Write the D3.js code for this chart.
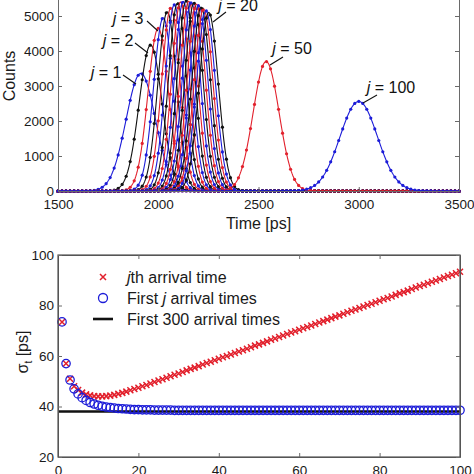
<!DOCTYPE html>
<html>
<head>
<meta charset="utf-8">
<script src="https://cdn.jsdelivr.net/npm/d3@7"></script>
<style>
  body { margin: 0; background: #fff; }
  svg { font-family: "Liberation Sans", Arial, sans-serif; }
</style>
</head>
<body>
<script>
var width = 474,
    height = 474;

// ---- top panel: distributions of the j-th arrival time (gaussian fits) ----
var curveJ     = [1, 2, 3, 4, 5, 6, 7, 8, 9, 10, 11, 12, 13, 14, 15, 16, 17, 18, 19, 20, 50, 100];
var curveMeans = [1913, 1962, 2000, 2025, 2045, 2063, 2080, 2096, 2111, 2125, 2139, 2152,
                  2165, 2178, 2190, 2202, 2214, 2226, 2238, 2252, 2538, 3000];
var curvePeaks = [3360, 4170, 4650, 4950, 5120, 5230, 5320, 5370, 5400, 5420, 5430, 5420,
                  5400, 5370, 5340, 5300, 5250, 5200, 5150, 5100, 3700, 2560];
var labelled   = [1, 2, 3, 20, 50, 100];
var countTicks = [0, 1000, 2000, 3000, 4000, 5000];
var timeTicks  = [1500, 2000, 2500, 3000, 3500];

// ---- bottom panel: timing spread vs j ----
var jthSigma = [73.5, 57.0, 51.0, 48.0, 46.5, 45.5, 44.8, 44.4, 44.1, 44.0,
                44.0, 44.1, 44.3, 44.6, 45.0, 45.4, 45.9, 46.4, 46.9, 47.4,
                48.0, 48.5, 49.1, 49.7, 50.3, 50.8, 51.4, 52.0, 52.6, 53.1,
                53.7, 54.3, 54.9, 55.4, 56.0, 56.6, 57.2, 57.7, 58.3, 58.9,
                59.5, 60.0, 60.6, 61.2, 61.8, 62.3, 62.9, 63.5, 64.1, 64.6,
                65.2, 65.8, 66.4, 66.9, 67.5, 68.1, 68.7, 69.3, 69.8, 70.4,
                71.0, 71.5, 72.1, 72.7, 73.3, 73.8, 74.4, 75.0, 75.6, 76.1,
                76.7, 77.3, 77.9, 78.4, 79.0, 79.6, 80.2, 80.7, 81.3, 81.9,
                82.5, 83.0, 83.6, 84.2, 84.8, 85.3, 85.9, 86.5, 87.1, 87.7,
                88.2, 88.8, 89.4, 89.9, 90.5, 91.1, 91.7, 92.2, 92.8, 93.4];
var firstJSigma = [73.5, 57.0, 50.5, 47.0, 45.0, 43.5, 42.4, 41.6, 41.0, 40.5,
                   40.1, 39.8, 39.6, 39.4, 39.2, 39.1, 39.0, 38.9, 38.8, 38.8,
                   38.7, 38.7, 38.7, 38.6, 38.6, 38.6, 38.6, 38.6, 38.5, 38.5,
                   38.5, 38.5, 38.5, 38.5, 38.5, 38.5, 38.5, 38.5, 38.5, 38.5,
                   38.5, 38.5, 38.5, 38.5, 38.5, 38.5, 38.5, 38.5, 38.5, 38.5,
                   38.5, 38.5, 38.5, 38.5, 38.5, 38.5, 38.5, 38.5, 38.5, 38.5,
                   38.5, 38.5, 38.5, 38.5, 38.5, 38.5, 38.5, 38.5, 38.5, 38.5,
                   38.5, 38.5, 38.5, 38.5, 38.5, 38.5, 38.5, 38.5, 38.5, 38.5,
                   38.5, 38.5, 38.5, 38.5, 38.5, 38.5, 38.5, 38.5, 38.5, 38.5,
                   38.5, 38.5, 38.5, 38.5, 38.5, 38.5, 38.5, 38.5, 38.5, 38.5];
var first300Sigma = 38.0;
var sigmaTicks = [20, 40, 60, 80, 100];
var jTicks = [0, 20, 40, 60, 80, 100];
var legendItems = ["th arrival time", "First ", "First 300 arrival times"];

var blue = "#1c1cd8", red = "#e2202c", black = "#111";
var cycle = [blue, black, red];
function curveColor(j) {
  if (j == 50) return red;
  if (j == 100) return blue;
  return cycle[(j - 1) % 3];
}

var svg = d3.select("body").append("svg")
    .attr("width", width)
    .attr("height", height);

function styleAxis(sel) {
  sel.select(".domain").attr("stroke", "#6a6a6a");
  sel.selectAll(".tick line").attr("stroke", "#6a6a6a");
  sel.selectAll(".tick text")
    .attr("fill", "#1a1a1a")
    .style("font-size", "13.5px")
    .style("font-family", "'Liberation Sans', Arial, sans-serif");
}

var fmt = d3.format("d");
var crossPath = "M-3,-3L3,3M-3,3L3,-3";

// ================= top panel =================
var x1 = d3.scaleLinear().domain([1500, 3500]).range([58, 459]);
var y1 = d3.scaleLinear().domain([0, 6000]).range([191, -19]);

var topG = svg.append("g");

var binCenters = d3.range(1500, 3501, 20);
var fineTimes = d3.range(1500, 3501, 4);

curveJ.forEach(function(j, i) {
  var mu = curveMeans[i], sd = jthSigma[j - 1], pk = curvePeaks[i];
  var g = function(t) { return pk * Math.exp(-(t - mu) * (t - mu) / (2 * sd * sd)); };
  var col = curveColor(j);

  topG.append("path")
    .datum(fineTimes)
    .attr("fill", "none")
    .attr("stroke", col)
    .attr("stroke-width", 1.1)
    .attr("d", d3.line().x(function(t) { return x1(t); }).y(function(t) { return y1(g(t)); }));

  topG.selectAll(null)
    .data(binCenters)
    .enter().append("circle")
    .attr("cx", function(t) { return x1(t); })
    .attr("cy", function(t) { return y1(g(t)); })
    .attr("r", 1.6)
    .attr("fill", col);
});

// frame + ticks
topG.append("g")
  .attr("transform", "translate(0,191)")
  .call(d3.axisBottom(x1).tickValues(timeTicks).tickFormat(fmt).tickSizeInner(-4).tickSizeOuter(0).tickPadding(8))
  .call(styleAxis);
topG.append("g")
  .attr("transform", "translate(58,0)")
  .call(d3.axisLeft(y1).tickValues(countTicks).tickFormat(fmt).tickSizeInner(-4).tickSizeOuter(0).tickPadding(4))
  .call(styleAxis);
topG.append("g")
  .attr("transform", "translate(459,0)")
  .call(d3.axisRight(y1).tickValues(countTicks).tickSizeInner(-4).tickSizeOuter(0).tickFormat(""))
  .call(styleAxis);

topG.append("text")
  .attr("x", x1(2500))
  .attr("y", 229)
  .attr("text-anchor", "middle")
  .style("font-size", "16px")
  .attr("fill", "#1a1a1a")
  .text("Time [ps]");

topG.append("text")
  .attr("transform", "translate(15,76) rotate(-90)")
  .attr("text-anchor", "middle")
  .style("font-size", "16px")
  .attr("fill", "#1a1a1a")
  .text("Counts");

// j labels with leader lines
var labelPos = {
  1:   {tx: 106, ty: 78, lx1: 123, ly1: 75, lx2: 136, ly2: 84},
  2:   {tx: 118, ty: 46, lx1: 135, ly1: 43, lx2: 148, ly2: 53},
  3:   {tx: 128, ty: 24, lx1: 147, ly1: 21, lx2: 158, ly2: 31},
  20:  {tx: 238, ty: 11, lx1: 226, ly1: 12, lx2: 213, ly2: 22},
  50:  {tx: 292, ty: 54, lx1: 283, ly1: 57, lx2: 270, ly2: 65},
  100: {tx: 391, ty: 93, lx1: 377, ly1: 95, lx2: 363, ly2: 103}
};
labelled.forEach(function(j) {
  var p = labelPos[j];
  topG.append("line")
    .attr("x1", p.lx1).attr("y1", p.ly1)
    .attr("x2", p.lx2).attr("y2", p.ly2)
    .attr("stroke", "#111").attr("stroke-width", 1.1);
  var t = topG.append("text")
    .attr("x", p.tx).attr("y", p.ty)
    .attr("text-anchor", "middle")
    .style("font-size", "16px")
    .attr("fill", "#111");
  t.append("tspan").style("font-style", "italic").text("j");
  t.append("tspan").text(" = " + j);
});

// ================= bottom panel =================
var x2 = d3.scaleLinear().domain([0, 100]).range([58, 460]);
var y2 = d3.scaleLinear().domain([20, 100]).range([457, 255]);

var bot = svg.append("g");

bot.append("line")
  .attr("x1", x2(0)).attr("x2", x2(100))
  .attr("y1", y2(first300Sigma)).attr("y2", y2(first300Sigma))
  .attr("stroke", black).attr("stroke-width", 2.6);

bot.selectAll(".cross")
  .data(jthSigma)
  .enter().append("path")
  .attr("class", "cross")
  .attr("transform", function(d, i) { return "translate(" + x2(i + 1) + "," + y2(d) + ")"; })
  .attr("d", crossPath)
  .attr("stroke", red)
  .attr("stroke-width", 1.5)
  .attr("fill", "none");

bot.selectAll(".ring")
  .data(firstJSigma)
  .enter().append("circle")
  .attr("class", "ring")
  .attr("cx", function(d, i) { return x2(i + 1); })
  .attr("cy", function(d) { return y2(d); })
  .attr("r", 4.2)
  .attr("fill", "none")
  .attr("stroke", blue)
  .attr("stroke-width", 1.3);

bot.append("rect")
  .attr("x", x2(0)).attr("y", y2(100))
  .attr("width", x2(100) - x2(0)).attr("height", y2(20) - y2(100))
  .attr("fill", "none").attr("stroke", "#555").attr("stroke-width", 1.2);

bot.append("g")
  .attr("transform", "translate(0,457)")
  .call(d3.axisBottom(x2).tickValues(jTicks).tickFormat(fmt).tickSizeInner(-4).tickSizeOuter(0).tickPadding(8))
  .call(styleAxis);
bot.append("g")
  .attr("transform", "translate(0,255)")
  .call(d3.axisTop(x2).tickValues(jTicks).tickSizeInner(-4).tickSizeOuter(0).tickFormat(""))
  .call(styleAxis);
bot.append("g")
  .attr("transform", "translate(58,0)")
  .call(d3.axisLeft(y2).tickValues(sigmaTicks).tickFormat(fmt).tickSizeInner(-4).tickSizeOuter(0).tickPadding(4))
  .call(styleAxis);
bot.append("g")
  .attr("transform", "translate(460,0)")
  .call(d3.axisRight(y2).tickValues(sigmaTicks).tickSizeInner(-4).tickSizeOuter(0).tickFormat(""))
  .call(styleAxis);
bot.selectAll(".domain").attr("stroke", "#555");

var yl = bot.append("text")
  .attr("transform", "translate(28,352) rotate(-90)")
  .attr("text-anchor", "middle")
  .style("font-size", "16px")
  .attr("fill", "#1a1a1a");
yl.append("tspan").text("σ");
yl.append("tspan").attr("dy", 4).style("font-size", "10px").text("t");
yl.append("tspan").attr("dy", -4).text(" [ps]");

// legend
var lg = bot.append("g");
lg.append("path")
  .attr("transform", "translate(103,277)")
  .attr("d", crossPath)
  .attr("stroke", red).attr("stroke-width", 1.5).attr("fill", "none");
lg.append("circle")
  .attr("cx", 103).attr("cy", 298).attr("r", 4.5)
  .attr("fill", "none").attr("stroke", blue).attr("stroke-width", 1.3);
lg.append("line")
  .attr("x1", 93).attr("x2", 113).attr("y1", 319).attr("y2", 319)
  .attr("stroke", black).attr("stroke-width", 2.6);

var t1 = lg.append("text").attr("x", 127).attr("y", 283).style("font-size", "16px").attr("fill", "#1a1a1a");
t1.append("tspan").style("font-style", "italic").text("j");
t1.append("tspan").text(legendItems[0]);
var t2 = lg.append("text").attr("x", 127).attr("y", 304).style("font-size", "16px").attr("fill", "#1a1a1a");
t2.append("tspan").text(legendItems[1]);
t2.append("tspan").style("font-style", "italic").text("j");
t2.append("tspan").text(" arrival times");
lg.append("text").attr("x", 127).attr("y", 325).style("font-size", "16px").attr("fill", "#1a1a1a")
  .text(legendItems[2]);
</script>
</body>
</html>
